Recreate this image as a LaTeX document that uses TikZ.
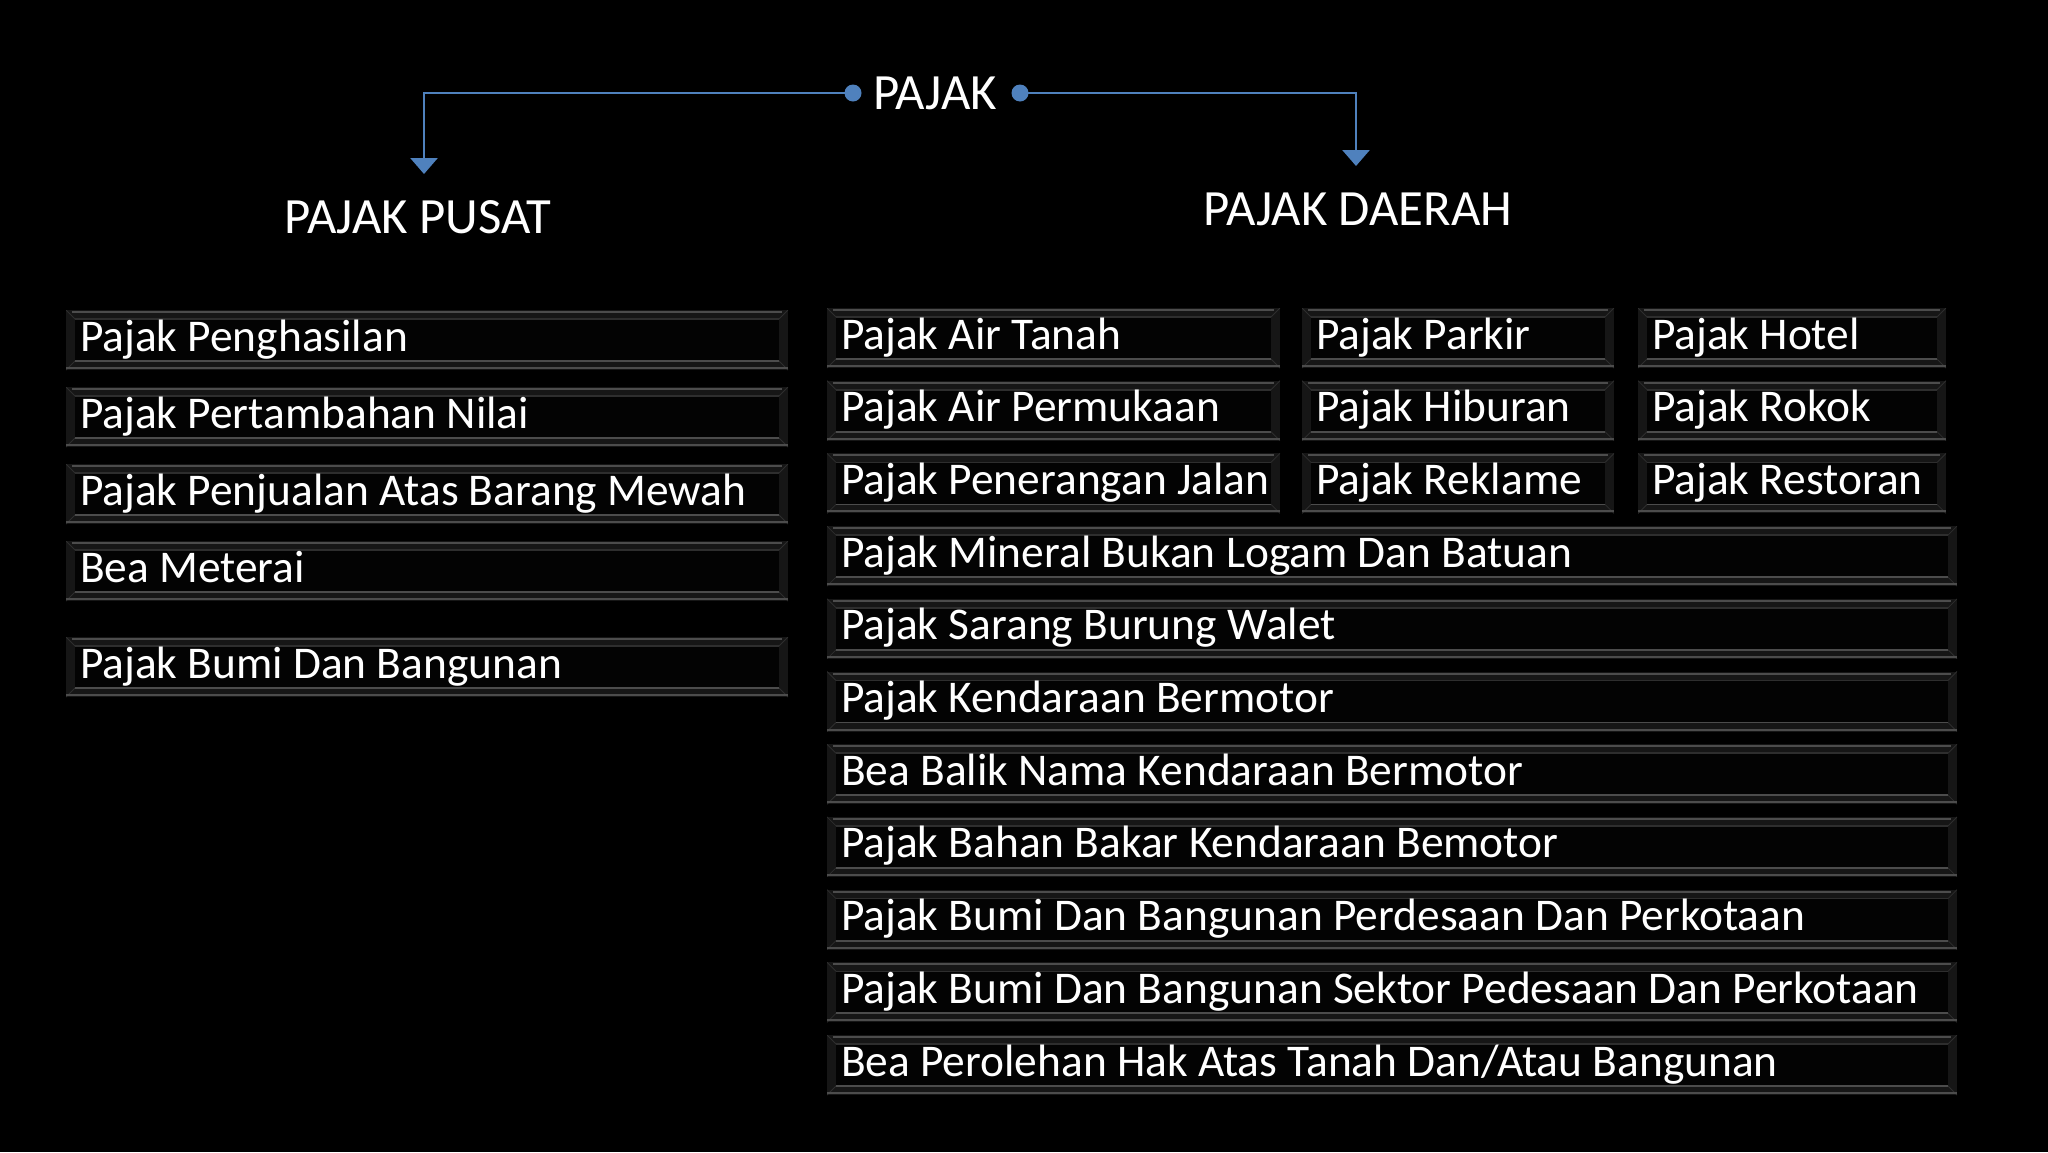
\documentclass[tikz,border=0pt]{standalone}
\usepackage{fontspec}
\setmainfont{Carlito}
\usetikzlibrary{arrows.meta}
\definecolor{connblue}{HTML}{4F81BD}
\definecolor{bevout}{HTML}{161616}
\definecolor{bevin}{HTML}{030303}
\definecolor{bevhi}{HTML}{4C4C4C}
\definecolor{bevmid}{HTML}{2E2E2E}
\newcommand\btx[2]{\makebox[#1][l]{#2}}
\tikzset{
  bev/.style={rectangle, inner xsep=7pt, inner ysep=0pt, minimum height=30pt,
    text height=16pt, text depth=5pt,
    fill=bevout, text=white, font=\fontsize{22.7}{26}\selectfont,
    path picture={
      \coordinate (bsw) at (path picture bounding box.south west);
      \coordinate (bne) at (path picture bounding box.north east);
      \coordinate (bnw) at (path picture bounding box.north west);
      \coordinate (bse) at (path picture bounding box.south east);
      \fill[bevin] ([shift={(4.5pt,4.5pt)}]bsw) rectangle ([shift={(-4.5pt,-4.5pt)}]bne);
      \draw[bevmid, line width=0.4pt] (bnw) -- ([shift={(4.5pt,-4.5pt)}]bnw)
        (bne) -- ([shift={(-4.5pt,-4.5pt)}]bne)
        (bsw) -- ([shift={(4.5pt,4.5pt)}]bsw)
        (bse) -- ([shift={(-4.5pt,4.5pt)}]bse);
      \draw[bevhi, line width=1pt] ([shift={(3pt,-1pt)}]bnw) -- ([shift={(-3pt,-1pt)}]bne);
      \draw[bevmid, line width=0.8pt] ([shift={(4.5pt,-4.5pt)}]bnw) -- ([shift={(-4.5pt,-4.5pt)}]bne);
      \draw[bevhi, line width=0.9pt] ([shift={(4.5pt,4.5pt)}]bsw) -- ([shift={(-4.5pt,4.5pt)}]bse);
      \draw[bevhi, line width=1pt] ([shift={(0pt,1pt)}]bsw) -- ([shift={(0pt,1pt)}]bse);
    }},
  lbox/.style={bev, minimum width=361pt},
  wbox/.style={bev, minimum width=565pt},
  c1box/.style={bev, minimum width=226.5pt},
  c2box/.style={bev, minimum width=156pt},
  c3box/.style={bev, minimum width=154pt},
  head/.style={text=white, inner sep=0pt, font=\fontsize{25.4}{29}\selectfont},
  dot/.style={circle, fill=connblue, inner sep=0pt, minimum size=8.5pt},
  conn/.style={draw=connblue, line width=1.35pt, -{Triangle[width=13.5pt,length=8pt]}},
}
\begin{document}
\begin{tikzpicture}[x=0.5pt,y=-0.5pt]
\fill[black] (0,0) rectangle (2048,1152);
\useasboundingbox (0,0) rectangle (2048,1152);

% headings
\node[head] (pajak) at (935,93) {PAJAK};
\node[head] (pusat) at (418,217) {PAJAK PUSAT};
\node[head] (daerah) at (1358,209) {PAJAK DAERAH};
\node[dot] (dl) at (853,93) {};
\node[dot] (dr) at (1020,93) {};
\coordinate (pusatin) at (424,174);
\coordinate (daerahin) at (1356,166);
\draw[conn] (dl.center) -| (pusatin);
\draw[conn] (dr.center) -| (daerahin);

% left column
\node[lbox] (l1) at (427,340) {\btx{347pt}{Pajak Penghasilan}};
\node[lbox] (l2) at (427,417) {\btx{347pt}{Pajak Pertambahan Nilai}};
\node[lbox] (l3) at (427,494) {\btx{347pt}{Pajak Penjualan Atas Barang Mewah}};
\node[lbox] (l4) at (427,571) {\btx{347pt}{Bea Meterai}};
\node[lbox] (l5) at (427,667) {\btx{347pt}{Pajak Bumi Dan Bangunan}};

% right column, three small columns
\node[c1box] (r1a) at (1053.5,338) {\btx{212.5pt}{Pajak Air Tanah}};
\node[c2box] (r1b) at (1458,338) {\btx{142pt}{Pajak Parkir}};
\node[c3box] (r1c) at (1792,338) {\btx{140pt}{Pajak Hotel}};
\node[c1box] (r2a) at (1053.5,410.7) {\btx{212.5pt}{Pajak Air Permukaan}};
\node[c2box] (r2b) at (1458,410.7) {\btx{142pt}{Pajak Hiburan}};
\node[c3box] (r2c) at (1792,410.7) {\btx{140pt}{Pajak Rokok}};
\node[c1box] (r3a) at (1053.5,483.4) {\btx{212.5pt}{Pajak Penerangan Jalan}};
\node[c2box] (r3b) at (1458,483.4) {\btx{142pt}{Pajak Reklame}};
\node[c3box] (r3c) at (1792,483.4) {\btx{140pt}{Pajak Restoran}};

% right column, wide rows
\node[wbox] (w1) at (1392,556.1) {\btx{551pt}{Pajak Mineral Bukan Logam Dan Batuan}};
\node[wbox] (w2) at (1392,628.8) {\btx{551pt}{Pajak Sarang Burung Walet}};
\node[wbox] (w3) at (1392,701.5) {\btx{551pt}{Pajak Kendaraan Bermotor}};
\node[wbox] (w4) at (1392,774.2) {\btx{551pt}{Bea Balik Nama Kendaraan Bermotor}};
\node[wbox] (w5) at (1392,846.9) {\btx{551pt}{Pajak Bahan Bakar Kendaraan Bemotor}};
\node[wbox] (w6) at (1392,919.6) {\btx{551pt}{Pajak Bumi Dan Bangunan Perdesaan Dan Perkotaan}};
\node[wbox] (w7) at (1392,992.3) {\btx{551pt}{Pajak Bumi Dan Bangunan Sektor Pedesaan Dan Perkotaan}};
\node[wbox] (w8) at (1392,1065) {\btx{551pt}{Bea Perolehan Hak Atas Tanah Dan/Atau Bangunan}};
\end{tikzpicture}
\end{document}
